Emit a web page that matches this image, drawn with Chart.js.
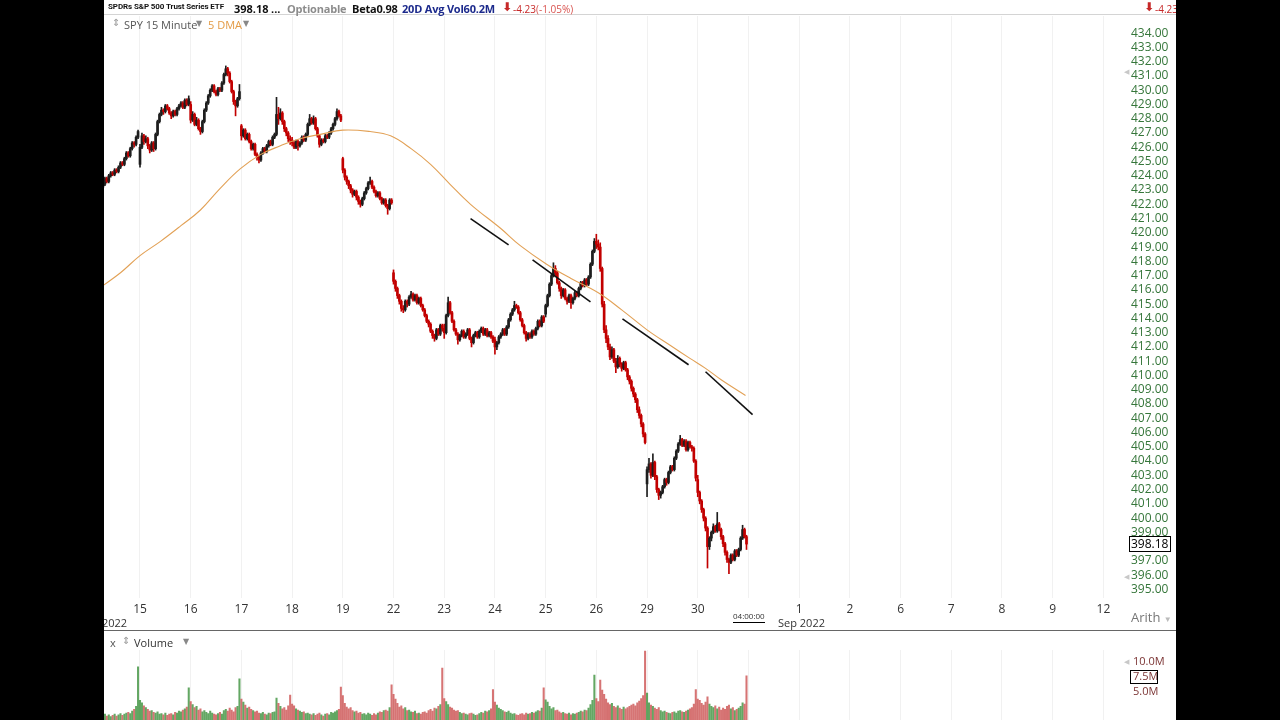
<!DOCTYPE html>
<html>
<head>
<meta charset="utf-8">
<script src="https://cdn.jsdelivr.net/npm/chart.js@4.4.1/dist/chart.umd.min.js"></script>
<style>
  body { margin: 0; width: 1280px; height: 720px; background: #000; overflow: hidden; font-family: 'Open Sans', sans-serif; }
  #panel { position: absolute; left: 104px; top: 0; width: 1072px; height: 720px; background: #fff; overflow: hidden; }
  #price { position: absolute; left: 0; top: 0; }
  #volume { position: absolute; left: 0; top: 632px; }
  .t { position: absolute; white-space: nowrap; line-height: 1; }
  .hr { position: absolute; left: 0; width: 1072px; height: 1px; }
</style>
</head>
<body>
<div id="panel">
  <canvas id="price" width="1072" height="630"></canvas>
  <canvas id="volume" width="1072" height="100"></canvas>

  <div class="hr" style="top:14px;background:#d4d4d4"></div>
  <div class="hr" style="top:630px;background:#666"></div>

  <span class="t" style="left:4px;top:2px;font:bold 8px Roboto;letter-spacing:-0.1px;color:#111">SPDRs S&amp;P 500 Trust Series ETF</span>
  <span class="t" style="left:130px;top:1px;font:bold 11px 'Open Sans';color:#111">398.18</span>
  <span class="t" style="left:167px;top:1px;font:bold 11px 'Open Sans';color:#111">...</span>
  <span class="t" style="left:183px;top:1px;font:bold 11px 'Open Sans';letter-spacing:-0.2px;color:#8c8c8c">Optionable</span>
  <span class="t" style="left:248px;top:1px;font:bold 11px 'Open Sans';letter-spacing:-0.2px;color:#111">Beta0.98</span>
  <span class="t" style="left:298px;top:1px;font:bold 11px 'Open Sans';letter-spacing:-0.2px;color:#1c2a8c">20D Avg Vol60.2M</span>
  <span class="t" style="left:398px;top:0px;font:bold 12px 'DejaVu Sans';color:#c62828">&#x2B07;</span>
  <span class="t" style="left:409px;top:2px;font:10px 'Open Sans';color:#c62828">-4.23<span style="color:#d9534f">(-1.05%)</span></span>
  <span class="t" style="left:1040px;top:0px;font:bold 12px 'DejaVu Sans';color:#c62828">&#x2B07;</span>
  <span class="t" style="left:1051px;top:2px;font:10px 'Open Sans';color:#c62828">-4.23</span>

  <span class="t" style="left:8px;top:17px;font:10px 'DejaVu Sans';color:#999">&#x21D5;</span>
  <span class="t" style="left:20px;top:17px;font:11px 'Open Sans';color:#555">SPY 15 Minute</span>
  <span class="t" style="left:92px;top:19px;font:8px 'DejaVu Sans';color:#888">&#x25BC;</span>
  <span class="t" style="left:104px;top:17px;font:11px 'Open Sans';color:#e39b45">5 DMA</span>
  <span class="t" style="left:139px;top:19px;font:8px 'DejaVu Sans';color:#888">&#x25BC;</span>

  <span class="t" style="left:-2px;top:615px;font:11px 'Open Sans';color:#333">2022</span>
  <span class="t" style="left:674px;top:615px;font:11px 'Open Sans';color:#333">Sep 2022</span>
  <span class="t" style="left:629px;top:610px;font:8px 'Open Sans';color:#333;border-bottom:1px solid #000;padding-bottom:1px">04:00:00</span>
  <span class="t" style="left:1027px;top:608px;font:13px 'Open Sans';color:#777">Arith <span style="font-size:8px;color:#bbb">&#x25BC;</span></span>

  <span class="t" style="left:1020px;top:68px;font:7px 'DejaVu Sans';color:#c8c8c8">&#x25C0;</span>
  <span class="t" style="left:1020px;top:573px;font:7px 'DejaVu Sans';color:#c8c8c8">&#x25C0;</span>
  <span class="t" style="left:1020px;top:658px;font:7px 'DejaVu Sans';color:#c8c8c8">&#x25C0;</span>

  <span class="t" style="left:6px;top:635px;font:11px 'Open Sans';color:#555">x</span>
  <span class="t" style="left:18px;top:635px;font:10px 'DejaVu Sans';color:#999">&#x21D5;</span>
  <span class="t" style="left:30px;top:635px;font:11px 'Open Sans';color:#333">Volume</span>
  <span class="t" style="left:79px;top:637px;font:8px 'DejaVu Sans';color:#888">&#x25BC;</span>
</div>

<script>
// SPY 15 minute bars, each row = [close, high, low]; open is the previous close (day open below)
const dayOpen = [423.2, 424.8, 429.0, 427.5, 426.5, 425.2, 417.2, 413.3, 412.5, 414.3, 419.4, 402.4, 402.7];

const aug12 = [[423.4,423.6,423.0],[423.8,423.9,423.3],[423.6,423.9,423.5],[424.0,424.1,423.5],[424.2,424.3,423.9],[424.1,424.3,424.0],[424.4,424.5,424.0],[424.3,424.5,424.2],[424.6,424.7,424.2],[424.9,425.0,424.5],[424.8,425.0,424.7],[425.2,425.3,424.7],[425.6,425.7,425.1],[425.4,425.7,425.3],[425.9,426.0,425.3],[426.3,426.4,425.8],[426.2,426.4,426.0],[426.7,426.8,426.1],[427.1,427.2,426.6]];
const aug15 = [[426.0,426.2,424.6],[426.8,427.0,425.9],[426.4,426.9,426.2],[426.6,426.8,426.3],[426.1,426.7,425.9],[425.8,426.2,425.6],[426.3,426.4,425.7],[425.9,426.4,425.7],[426.9,427.0,425.8],[427.8,427.9,426.8],[428.3,428.4,427.7],[428.6,428.8,428.2],[428.5,428.7,428.3],[428.9,429.0,428.4],[428.7,429.0,428.6],[428.4,428.8,428.3],[428.2,428.5,428.0],[428.5,428.6,428.1],[428.3,428.6,428.2],[428.7,428.8,428.2],[428.9,429.0,428.6],[429.1,429.2,428.8],[428.8,429.2,428.7],[429.3,429.4,428.7],[429.0,429.4,428.9],[429.4,429.6,428.9]];
const aug16 = [[427.9,429.2,427.7],[428.3,428.5,427.8],[427.6,428.4,427.5],[427.9,428.1,427.5],[427.3,428.0,427.2],[427.1,427.4,426.9],[427.8,427.9,427.0],[428.6,428.7,427.7],[429.1,429.2,428.5],[429.6,429.7,429.0],[430.0,430.1,429.5],[430.3,430.4,429.9],[429.9,430.4,429.8],[429.7,430.0,429.6],[430.1,430.2,429.6],[430.0,430.2,429.9],[430.5,430.6,429.9],[431.1,431.2,430.4],[431.5,431.7,431.0],[431.2,431.6,431.0],[430.6,431.3,430.5],[429.9,430.7,429.8],[429.2,430.0,429.0],[428.9,429.3,428.2],[429.4,429.5,428.8],[429.9,430.4,429.3]];
const aug17 = [[426.8,427.6,426.5],[427.2,427.3,426.7],[426.6,427.3,426.5],[426.9,427.0,426.5],[426.4,427.0,426.3],[425.9,426.5,425.8],[426.2,426.3,425.8],[425.5,426.3,425.4],[425.3,425.6,425.1],[425.1,425.4,424.9],[425.6,425.7,425.0],[425.9,426.0,425.5],[425.7,426.0,425.6],[426.1,426.2,425.6],[426.4,426.5,426.0],[426.2,426.5,426.1],[426.7,426.8,426.1],[426.9,427.0,426.6],[428.3,429.5,426.8],[428.0,428.8,427.6],[428.4,428.7,427.9],[427.8,428.5,427.6],[427.3,427.9,427.1],[427.0,427.4,426.8],[426.6,427.1,426.4],[426.5,426.8,426.2]];
const aug18 = [[426.3,426.7,426.1],[426.0,426.4,425.9],[426.4,426.5,425.9],[426.1,426.5,425.8],[426.3,426.4,426.0],[426.7,426.8,426.2],[426.5,426.8,426.4],[426.9,427.0,426.4],[427.6,427.7,426.8],[428.0,428.3,427.5],[427.7,428.1,427.6],[428.0,428.2,427.6],[427.3,428.1,427.2],[426.8,427.4,426.7],[426.2,426.9,426.0],[426.5,426.6,426.1],[426.4,426.6,426.3],[426.8,426.9,426.3],[426.7,426.9,426.6],[427.0,427.1,426.6],[427.3,427.4,426.9],[427.6,427.7,427.2],[428.0,428.1,427.5],[428.5,428.7,427.9],[428.2,428.6,428.1],[427.9,428.3,427.8]];
const aug19 = [[424.4,425.3,424.2],[423.9,424.5,423.7],[423.6,424.0,423.4],[423.3,423.7,423.1],[423.0,423.4,422.8],[422.7,423.1,422.5],[422.9,423.0,422.6],[422.5,423.0,422.3],[422.2,422.6,422.0],[422.0,422.3,421.8],[422.4,422.5,421.9],[422.8,422.9,422.3],[423.1,423.2,422.7],[423.5,423.6,423.0],[423.6,423.9,423.4],[423.2,423.7,423.1],[422.9,423.3,422.8],[422.6,423.0,422.5],[422.8,422.9,422.5],[422.4,422.9,422.3],[422.1,422.5,422.0],[422.3,422.4,422.0],[421.9,422.4,421.8],[421.7,422.0,421.3],[422.3,422.4,421.6],[422.1,422.4,422.0]];
const aug22 = [[416.6,417.4,416.4],[416.1,416.7,415.9],[415.6,416.2,415.4],[415.2,415.7,415.0],[414.7,415.3,414.5],[414.6,414.9,414.4],[415.2,415.3,414.5],[415.0,415.3,414.8],[415.5,415.6,414.9],[415.7,415.9,415.4],[415.3,415.8,415.2],[415.6,415.7,415.2],[415.1,415.7,415.0],[415.4,415.5,415.0],[414.9,415.5,414.8],[414.6,415.0,414.5],[414.2,414.7,414.1],[413.8,414.3,413.7],[413.6,413.9,413.4],[413.1,413.7,413.0],[412.8,413.2,412.6],[412.6,412.9,412.4],[413.2,413.3,412.5],[412.9,413.3,412.8],[413.5,413.6,412.8],[413.3,413.6,413.1]];
const aug23 = [[413.0,413.6,412.6],[414.2,414.3,412.9],[415.1,415.5,414.1],[414.4,415.2,414.3],[413.8,414.5,413.7],[413.2,413.9,413.1],[412.9,413.3,412.8],[412.5,413.0,412.2],[412.8,412.9,412.4],[413.1,413.2,412.7],[412.7,413.2,412.6],[412.9,413.0,412.6],[413.2,413.3,412.8],[412.6,413.3,412.5],[412.3,412.7,412.0],[412.8,412.9,412.2],[413.0,413.1,412.7],[412.7,413.1,412.6],[413.1,413.2,412.6],[413.3,413.4,413.0],[412.9,413.4,412.8],[413.2,413.3,412.8],[412.8,413.3,412.7],[413.0,413.1,412.7],[412.7,413.1,412.6],[412.4,412.8,412.3]];
const aug24 = [[412.0,412.7,411.5],[412.3,412.4,411.8],[412.7,412.8,412.2],[412.9,413.0,412.6],[413.2,413.3,412.8],[412.9,413.3,412.8],[413.4,413.5,412.8],[413.9,414.0,413.3],[414.3,414.4,413.8],[414.6,414.7,414.2],[414.9,415.2,414.5],[414.8,415.0,414.7],[414.4,414.9,414.3],[413.9,414.5,413.8],[413.5,414.0,413.4],[413.0,413.6,412.9],[412.6,413.1,412.4],[412.9,413.0,412.5],[412.7,413.0,412.6],[413.1,413.2,412.6],[412.9,413.2,412.8],[413.3,413.4,412.8],[413.8,413.9,413.2],[413.5,413.9,413.4],[414.1,414.2,413.4],[413.8,414.2,413.7]];
const aug25 = [[414.9,415.0,414.1],[415.6,415.7,414.8],[416.4,416.5,415.5],[417.0,417.1,416.3],[417.5,417.9,416.9],[417.2,417.7,417.0],[416.5,417.3,416.4],[416.1,416.6,415.9],[415.6,416.2,415.4],[416.0,416.1,415.5],[415.4,416.1,415.3],[415.2,415.5,415.0],[415.6,415.7,415.1],[415.1,415.7,414.7],[415.4,415.5,415.0],[415.8,415.9,415.3],[415.6,415.9,415.5],[416.1,416.2,415.5],[416.5,416.6,416.0],[416.3,416.6,416.2],[416.7,416.8,416.2],[416.4,416.8,416.3],[416.9,417.0,416.3],[417.8,417.9,416.8],[418.7,418.8,417.7],[419.4,419.6,418.6]];
const aug26 = [[419.2,419.9,418.9],[419.0,419.5,418.8],[417.5,419.3,417.3],[415.0,417.6,414.8],[413.2,415.2,413.0],[412.6,413.5,412.3],[412.0,412.8,411.8],[411.3,412.2,411.1],[411.8,412.0,411.2],[411.0,411.9,410.9],[410.6,411.2,410.2],[411.2,411.4,410.5],[410.8,411.3,410.6],[410.5,410.9,410.3],[410.9,411.0,410.4],[410.4,411.0,410.3],[409.9,410.5,409.7],[409.6,410.0,409.4],[409.1,409.7,408.9],[408.7,409.2,408.5],[408.3,408.8,408.1],[407.6,408.4,407.4],[407.2,407.8,407.0],[406.6,407.3,406.4],[405.9,406.7,405.7],[405.3,406.0,405.2]];
const aug29 = [[403.4,403.6,401.5],[403.8,404.2,403.2],[403.0,403.9,402.8],[403.9,404.5,402.9],[402.9,404.0,402.7],[402.0,403.0,401.8],[401.6,402.1,401.3],[401.8,401.9,401.4],[402.2,402.3,401.7],[402.7,402.8,402.1],[402.5,402.8,402.3],[403.2,403.3,402.4],[403.6,403.7,403.1],[403.4,403.7,403.3],[404.2,404.3,403.3],[404.7,404.8,404.1],[405.2,405.3,404.6],[405.5,405.8,405.1],[405.1,405.6,405.0],[405.4,405.5,405.0],[404.8,405.5,404.7],[405.3,405.4,404.7],[405.0,405.4,404.9],[404.9,405.1,404.7],[404.0,405.0,403.9],[402.8,404.1,402.6]];
const aug30 = [[401.8,403.0,401.5],[401.2,401.9,401.0],[400.6,401.3,400.4],[400.0,400.7,399.8],[399.3,400.1,399.1],[398.0,399.4,396.5],[398.6,398.7,397.8],[399.0,399.1,398.4],[399.4,399.6,398.9],[399.1,399.5,399.0],[399.6,400.4,399.0],[399.2,399.7,399.1],[398.7,399.3,398.5],[398.2,398.8,398.0],[397.6,398.3,397.4],[397.1,397.7,396.9],[396.9,397.2,396.1],[397.4,397.5,396.8],[397.1,397.5,397.0],[397.7,397.8,397.0],[397.4,397.8,397.3],[397.8,397.9,397.3],[398.6,398.7,397.7],[399.2,399.5,398.5],[398.7,399.3,398.6],[398.18,398.8,397.8]];

// volume per bar, millions
const vol12 = [1.1,1.3,1.0,1.2,0.9,1.1,1.3,1.0,1.2,1.4,1.1,1.3,1.5,1.6,1.4,1.8,2.1,2.6,9.2];
const vol15 = [3.6,3.2,2.7,2.4,2.1,1.8,1.9,1.6,1.5,1.7,1.3,1.4,1.2,1.5,1.1,1.3,1.4,1.2,1.6,1.5,1.8,1.7,2.0,2.2,2.5,5.7];
const vol16 = [3.4,2.9,2.4,2.6,2.0,2.2,1.7,1.9,1.6,1.4,1.8,1.5,1.3,1.2,1.4,1.6,1.3,1.9,2.1,1.8,2.3,2.0,1.7,2.4,2.6,7.2];
const vol17 = [3.8,3.3,2.8,2.3,2.5,2.1,1.9,1.7,1.8,1.5,1.4,1.6,1.3,1.2,1.5,1.4,1.6,1.7,4.0,3.1,2.6,2.2,2.4,2.0,2.7,4.5];
const vol18 = [3.0,2.7,2.2,2.0,1.8,1.6,1.7,1.4,1.5,1.3,1.2,1.4,1.1,1.3,1.5,1.2,1.0,1.3,1.4,1.2,1.6,1.5,1.7,1.9,2.1,5.8];
const vol19 = [4.4,3.1,2.5,2.2,2.4,1.9,1.7,1.8,1.5,1.6,1.3,1.4,1.2,1.5,1.3,1.1,1.4,1.2,1.5,1.7,1.6,1.9,2.0,1.8,2.4,6.2];
const vol22 = [4.6,3.8,3.1,2.5,2.7,2.2,2.4,1.9,2.0,1.7,1.6,1.8,1.4,1.5,1.3,1.6,1.7,1.5,1.9,2.1,1.8,2.3,2.2,2.6,2.9,9.0];
const vol23 = [3.9,3.4,2.9,2.5,2.3,2.0,1.8,1.9,1.6,1.4,1.5,1.3,1.2,1.4,1.5,1.3,1.1,1.2,1.4,1.6,1.5,1.8,1.7,1.9,2.2,5.4];
const vol24 = [3.3,2.8,2.3,2.1,1.9,1.7,1.6,1.8,1.5,1.3,1.4,1.2,1.1,1.3,1.4,1.2,1.5,1.3,1.4,1.6,1.5,1.7,1.9,1.8,2.3,5.7];
const vol25 = [3.7,3.3,2.6,2.2,2.4,1.9,2.0,1.7,1.5,1.6,1.4,1.3,1.5,1.2,1.4,1.3,1.5,1.6,1.8,1.7,2.0,1.9,2.3,2.9,3.6,7.8];
const vol26 = [3.9,3.4,7.0,5.3,4.6,3.8,3.2,2.9,3.1,2.6,2.4,2.7,2.3,2.1,2.5,2.2,2.4,2.6,2.8,3.0,2.7,3.2,3.5,3.9,4.4,11.8];
const vol29 = [4.8,3.2,2.8,2.6,2.3,2.1,2.4,1.9,1.7,1.8,1.6,1.5,1.4,1.6,1.7,1.5,1.8,1.9,1.7,1.6,1.8,2.0,2.2,2.4,3.0,5.4];
const vol30 = [3.8,3.6,3.1,2.8,3.3,4.2,3.0,2.6,2.4,2.7,2.2,2.5,2.0,2.3,2.1,2.6,2.8,2.2,2.4,1.9,2.1,2.3,2.6,3.2,3.0,7.7];

// 5 DMA at bar positions
const maIdx = [-19, -10, 0, 10.5, 21, 31, 41, 51.5, 62, 72, 82, 92.5, 104, 118, 128.5, 139, 149, 159, 169.5, 185, 195, 208.5, 221, 235, 247, 260, 272, 282, 290, 298, 310.5];
const maVal = [416.3, 417.2, 418.4, 419.4, 420.5, 421.6, 423.1, 424.5, 425.5, 426.1, 426.6, 426.9, 427.2, 427.1, 426.8, 425.9, 424.8, 423.4, 422.0, 420.3, 419.1, 417.8, 416.8, 415.8, 414.6, 413.2, 412.1, 411.2, 410.5, 409.7, 408.6];

// drawn trend lines [x1, price1, x2, price2]
const trendLines = [[169.5, 421.0, 189, 419.15], [201.3, 418.1, 231, 415.16], [247.4, 413.97, 281.3, 410.75], [290, 410.26, 314.1, 407.25]];

const xTickLabels = ['15','16','17','18','19','22','23','24','25','26','29','30','','1','2','6','7','8','9','12'];
const priceTicks = [];
for (let p = 395; p <= 434; p++) priceTicks.push(p);
const volTicks = [5, 7.5, 10];

const dayBars = [aug12, aug15, aug16, aug17, aug18, aug19, aug22, aug23, aug24, aug25, aug26, aug29, aug30];
const dayVol = [vol12, vol15, vol16, vol17, vol18, vol19, vol22, vol23, vol24, vol25, vol26, vol29, vol30];

const candles = [];
let idx = -aug12.length;
dayBars.forEach((bars, d) => {
  let prev = dayOpen[d];
  bars.forEach((b, j) => {
    candles.push({ x: idx, o: prev, c: b[0], h: b[1], l: b[2], v: dayVol[d][j] });
    prev = b[0];
    idx++;
  });
});

const candleColor = candles.map(k => k.c >= k.o ? '#1e1e1e' : '#c20000');
const volColor = candles.map(k => k.c >= k.o ? 'rgba(60,145,60,0.8)' : 'rgba(200,70,70,0.75)');

const X_MIN = -18.46, X_MAX = 505.6;
const font = { family: "'Open Sans', sans-serif", size: 12 };

const lastPriceBox = {
  id: 'lastPriceBox',
  afterDraw(chart) {
    const { ctx, chartArea, scales } = chart;
    const last = candles[candles.length - 1].c;
    const py = Math.round(scales.y.getPixelForValue(last));
    ctx.save();
    ctx.fillStyle = '#fff';
    ctx.fillRect(chartArea.right + 3, py - 8, 41, 16);
    ctx.strokeStyle = '#000';
    ctx.lineWidth = 1;
    ctx.strokeRect(chartArea.right + 3.5, py - 7.5, 41, 15);
    ctx.fillStyle = '#000';
    ctx.font = "12px 'Open Sans'";
    ctx.textBaseline = 'middle';
    ctx.fillText(last.toFixed(2), chartArea.right + 5, py + 0.5);
    ctx.restore();
  }
};

const datasets = [
  { data: candles.map(k => ({ x: k.x, y: [k.l, k.h] })), backgroundColor: candleColor, barThickness: 1, grouped: false, order: 3 },
  { data: candles.map(k => ({ x: k.x, y: [k.o, k.c] })), backgroundColor: candleColor, barThickness: 2, minBarLength: 1, grouped: false, order: 2 },
  { type: 'line', data: maIdx.map((x, i) => ({ x: x, y: maVal[i] })), borderColor: '#e2a156', borderWidth: 1.1, pointRadius: 0, tension: 0.4, order: 1 }
];
trendLines.forEach(t => {
  datasets.push({ type: 'line', data: [{ x: t[0], y: t[1] }, { x: t[2], y: t[3] }], borderColor: '#111', borderWidth: 1.6, pointRadius: 0, order: 0 });
});

new Chart(document.getElementById('price'), {
  type: 'bar',
  data: { datasets: datasets },
  options: {
    responsive: false,
    animation: false,
    layout: { padding: { top: 16, left: 0, right: 0, bottom: 0 } },
    plugins: { legend: { display: false }, tooltip: { enabled: false } },
    scales: {
      x: {
        type: 'linear', min: X_MIN, max: X_MAX, offset: false,
        afterBuildTicks: s => { s.ticks = xTickLabels.map((l, k) => ({ value: 26 * k })); },
        afterFit: s => { s.height = 32; },
        ticks: { autoSkip: false, maxRotation: 0, padding: 4, color: '#333', font: font,
          callback: (v) => xTickLabels[Math.round(v / 26)] },
        grid: { color: '#f1f1f1', drawTicks: false, offset: false },
        border: { display: false }
      },
      y: {
        position: 'right', min: 394.4, max: 435.2,
        afterBuildTicks: s => { s.ticks = priceTicks.map(v => ({ value: v })); },
        afterFit: s => { s.width = 50; },
        ticks: { autoSkip: false, padding: 5, color: '#35763a', font: font, callback: v => v.toFixed(2) },
        grid: { display: false, drawTicks: false },
        border: { display: false }
      }
    }
  },
  plugins: [lastPriceBox]
});

const volBox = {
  id: 'volBox',
  afterDraw(chart) {
    const { ctx, chartArea, scales } = chart;
    const py = Math.round(scales.y.getPixelForValue(7.5));
    ctx.save();
    ctx.strokeStyle = '#000';
    ctx.lineWidth = 1;
    ctx.strokeRect(chartArea.right + 4.5, py - 6.5, 27, 13);
    ctx.restore();
  }
};

new Chart(document.getElementById('volume'), {
  type: 'bar',
  data: {
    datasets: [{ data: candles.map(k => ({ x: k.x, y: k.v })), backgroundColor: volColor, barThickness: 1.4 }]
  },
  options: {
    responsive: false,
    animation: false,
    layout: { padding: { top: 18, left: 0, right: 0, bottom: 0 } },
    plugins: { legend: { display: false }, tooltip: { enabled: false } },
    scales: {
      x: {
        type: 'linear', min: X_MIN, max: X_MAX, offset: false,
        afterBuildTicks: s => { s.ticks = xTickLabels.map((l, k) => ({ value: 26 * k })); },
        afterFit: s => { s.height = 0; },
        ticks: { display: false },
        grid: { color: '#f1f1f1', drawTicks: false, offset: false },
        border: { display: false }
      },
      y: {
        position: 'right', min: -0.57, max: 12,
        afterBuildTicks: s => { s.ticks = volTicks.map(v => ({ value: v })); },
        afterFit: s => { s.width = 50; },
        ticks: { autoSkip: false, padding: 0, color: '#7b3434', font: { family: "'Open Sans', sans-serif", size: 11 },
          callback: v => v.toFixed(1) + 'M' },
        grid: { display: false, drawTicks: true, tickLength: 7, tickColor: 'rgba(0,0,0,0)' },
        border: { display: false }
      }
    }
  },
  plugins: [volBox]
});
</script>
</body>
</html>
